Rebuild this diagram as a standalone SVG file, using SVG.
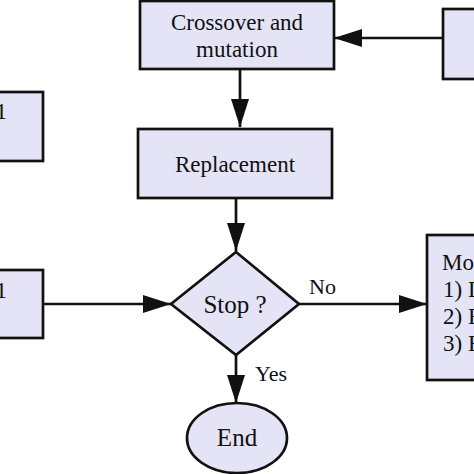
<svg xmlns="http://www.w3.org/2000/svg" width="474" height="474" viewBox="0 0 474 474">
<style>
.n{fill:#e4e4f6;stroke:#111;stroke-width:2.7}
.t{font-family:"Liberation Serif","Times New Roman",serif;font-size:23px;fill:#111}
.b{font-size:25px}
.l{font-family:"Liberation Serif","Times New Roman",serif;font-size:22px;fill:#111}
.c{stroke:#111;stroke-width:2.7;fill:none;marker-end:url(#ah)}
</style>
<defs>
<marker id="ah" markerUnits="userSpaceOnUse" markerWidth="30" markerHeight="20" refX="28" refY="9" orient="auto">
<path d="M0,0 L28,9 L0,18 z" fill="#111"/>
</marker>
</defs>
<rect width="474" height="474" fill="#fff"/>
<g id="crossover"><rect class="n" x="140" y="1" width="194" height="68"/>
<text class="t" x="237" y="30" text-anchor="middle">Crossover and</text>
<text class="t" x="237" y="57" text-anchor="middle">mutation</text></g>
<g id="topright"><rect class="n" x="443" y="9" width="40" height="70"/></g>
<g id="left1"><rect class="n" x="-10" y="92" width="53" height="69"/>
<text class="t" x="7" y="119" text-anchor="end">1</text></g>
<g id="replacement"><rect class="n" x="138" y="129" width="194" height="69"/>
<text class="t" x="235" y="172" text-anchor="middle">Replacement</text></g>
<g id="left2"><rect class="n" x="-10" y="270" width="53" height="68"/>
<text class="t" x="7" y="298" text-anchor="end">1</text></g>
<g id="stop"><polygon class="n" points="236,252 299,304 236,355 171,304"/>
<text class="t b" x="235" y="313" text-anchor="middle">Stop ?</text></g>
<g id="modify"><rect class="n" x="427" y="235" width="60" height="145"/>
<text class="t" x="442" y="270">Mo</text>
<text class="t" x="443" y="297">1) D</text>
<text class="t" x="443" y="324">2) E</text>
<text class="t" x="443" y="351">3) E</text></g>
<g id="end"><ellipse class="n" cx="237" cy="438" rx="50" ry="35"/>
<text class="t b" x="237" y="446" text-anchor="middle">End</text></g>
<g id="connectors">
<line class="c" x1="443" y1="38" x2="334" y2="38"/>
<line class="c" x1="240" y1="69" x2="240" y2="127"/>
<line class="c" x1="236" y1="198" x2="236" y2="251"/>
<line class="c" x1="43" y1="304" x2="171" y2="304"/>
<line class="c" x1="299" y1="304" x2="427" y2="304"/>
<line class="c" x1="236" y1="355" x2="236" y2="403"/>
<text class="l" x="309" y="294">No</text>
<text class="l" x="255" y="381">Yes</text>
</g>
</svg>
